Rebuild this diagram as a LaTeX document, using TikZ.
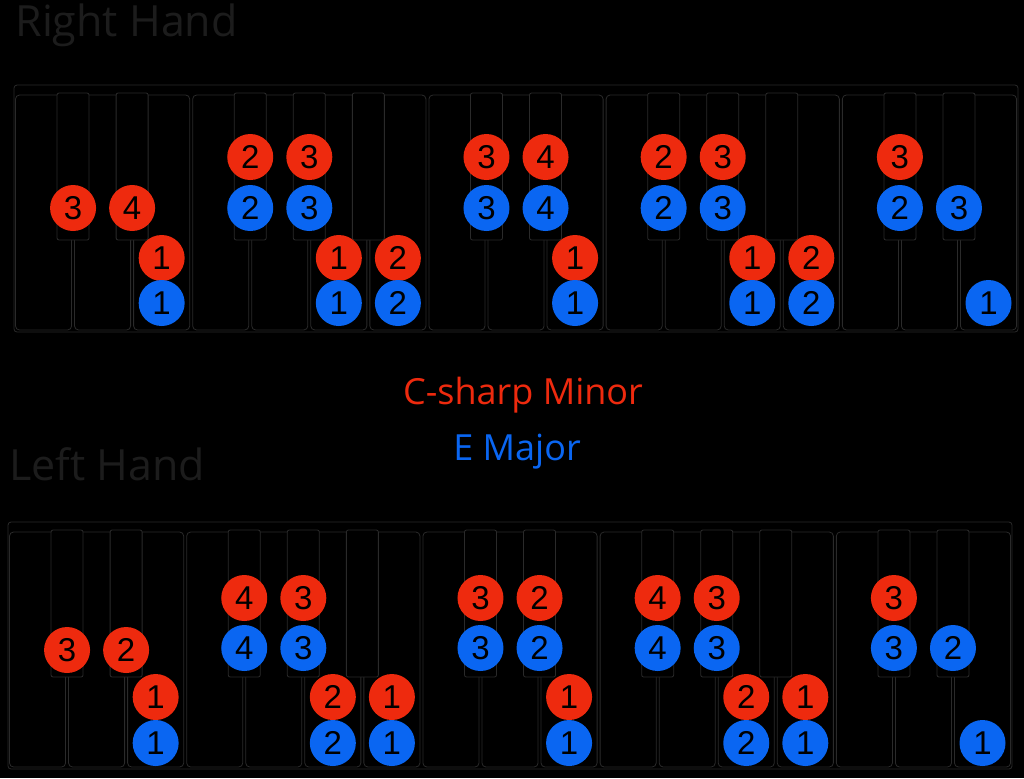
\documentclass[tikz,border=0pt]{standalone}
\usepackage{fontspec}
\setmainfont{Open Sans}
\newfontfamily\digitfont{Liberation Sans}
\definecolor{keyline}{HTML}{2A2A2A}
\definecolor{titleline}{HTML}{1C1C1C}
\definecolor{minred}{HTML}{EE2A0E}
\definecolor{majblue}{HTML}{0A66F2}
\tikzset{
  keyline/.style={draw=keyline,line width=0.8pt},
  finger/.style={circle,minimum size=46pt,inner sep=0pt,font=\digitfont\fontsize{33}{33}\selectfont,text=black},
  red finger/.style={finger,fill=minred},
  blue finger/.style={finger,fill=majblue},
  title/.style={anchor=base west,text=titleline,font=\fontsize{43}{43}\selectfont},
}
\begin{document}
\begin{tikzpicture}[x=1pt,y=-1pt]
	\fill[black] (0,0) rectangle (1024,778);
	\def\w{59.06}
	% keyboard: #1 left edge, #2 top edge
	\def\keyboard#1#2{
		\draw[keyline,rounded corners=3pt] (#1,#2) rectangle ++(1004,247);
		\foreach \k in {0,...,16}{
			\draw[keyline,rounded corners=4pt] ({#1+\k*\w+1.5},#2+10) rectangle ++(\w-3,235);
		}
		\foreach \k in {1,2,4,5,6,8,9,11,12,13,15,16}{
			\draw[keyline,fill=black,rounded corners=2pt] ({#1+\k*\w-16},#2+8) rectangle ++(32,147);
		}
	}
	\keyboard{14}{85}
	\keyboard{8}{522}
	\node[title] (rh) at (12,36) {Right Hand};
	\node[title] (lh) at (6,480) {Left Hand};
	% right hand fingering
	\def\x#1{14+#1*\w}
	\foreach \k/\n/\r [count=\i] in {1/3/208,2/4/208,4/2/157,5/3/157,8/3/157,9/4/157,11/2/157,12/3/157,15/3/157}
		\node[red finger] (rb\i) at ({\x{\k}},\r) {\n};
	\foreach \k/\n [count=\i] in {2.5/1,5.5/1,6.5/2,9.5/1,12.5/1,13.5/2}
		\node[red finger] (rw\i) at ({\x{\k}},258) {\n};
	\foreach \k/\n [count=\i] in {4/2,5/3,8/3,9/4,11/2,12/3,15/2,16/3}
		\node[blue finger] (bb\i) at ({\x{\k}},208) {\n};
	\foreach \k/\n [count=\i] in {2.5/1,5.5/1,6.5/2,9.5/1,12.5/1,13.5/2,16.5/1}
		\node[blue finger] (bw\i) at ({\x{\k}},303) {\n};
	% left hand fingering
	\def\y#1{8+#1*\w}
	\foreach \k/\n/\r [count=\i] in {1/3/650,2/2/650,4/4/598,5/3/598,8/3/598,9/2/598,11/4/598,12/3/598,15/3/598}
		\node[red finger] (lrb\i) at ({\y{\k}},\r) {\n};
	\foreach \k/\n [count=\i] in {2.5/1,5.5/2,6.5/1,9.5/1,12.5/2,13.5/1}
		\node[red finger] (lrw\i) at ({\y{\k}},697) {\n};
	\foreach \k/\n [count=\i] in {4/4,5/3,8/3,9/2,11/4,12/3,15/3,16/2}
		\node[blue finger] (lbb\i) at ({\y{\k}},648) {\n};
	\foreach \k/\n [count=\i] in {2.5/1,5.5/2,6.5/1,9.5/1,12.5/2,13.5/1,16.5/1}
		\node[blue finger] (lbw\i) at ({\y{\k}},743) {\n};
	% legend
	\node[text=minred,font=\fontsize{36}{36}\selectfont] (minor) at (523,395) {C-sharp Minor};
	\node[text=majblue,font=\fontsize{36}{36}\selectfont] (major) at (517,452) {E Major};
\end{tikzpicture}
\end{document}
